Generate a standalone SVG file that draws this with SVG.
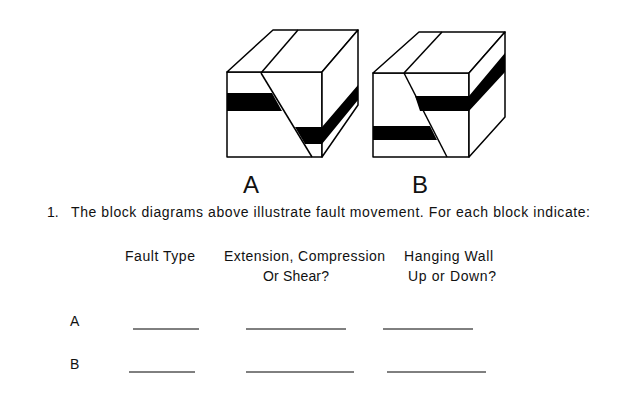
<svg xmlns="http://www.w3.org/2000/svg" width="625" height="403" viewBox="0 0 625 403">
<style>
.f{fill:#fff;stroke:#000;stroke-width:1.5;stroke-linejoin:round}
.l{fill:none;stroke:#000;stroke-width:1.5}
.b{fill:#000}
text{font-family:"Liberation Sans",Arial,sans-serif;font-size:14px;fill:#111}
</style>
<rect width="625" height="403" fill="#fff"/>
<g id="blockA">
<polygon class="f" points="227,72 322,72 322,157 227,157"/>
<polygon class="f" points="227,72 273,30 358,30 322,72"/>
<polygon class="f" points="322,72 358,30 358,105 322,157"/>
<polygon class="b" points="227,93 272,93 282,111 227,111"/>
<polygon class="b" points="295,127 322,127 358,85 358,100 322,144 305,144"/>
<line class="l" x1="298" y1="30" x2="261" y2="73"/>
<line class="l" x1="261" y1="73" x2="312" y2="157"/>
<text x="243" y="193" style="font-size:24px">A</text>
</g>
<g id="blockB">
<polygon class="f" points="373,73 469,73 469,157 373,157"/>
<polygon class="f" points="373,73 419,32 505,32 469,73"/>
<polygon class="f" points="469,73 505,32 505,117 469,157"/>
<polygon class="b" points="373,126 430,126 437,140 373,140"/>
<polygon class="b" points="415,96 469,96 505,53 505,72 469,111 420,111"/>
<line class="l" x1="442" y1="32" x2="404" y2="73"/>
<line class="l" x1="404" y1="73" x2="447" y2="157"/>
<text x="412" y="193" style="font-size:24px">B</text>
</g>
<g id="text">
<text x="47" y="217">1.</text>
<text x="71" y="217" textLength="519" lengthAdjust="spacing">The block diagrams above illustrate fault movement.  For each block indicate:</text>
<text x="125" y="261" textLength="70">Fault Type</text>
<text x="224" y="261" textLength="161">Extension, Compression</text>
<text x="263" y="281" textLength="66">Or Shear?</text>
<text x="404" y="261" textLength="89">Hanging Wall</text>
<text x="408" y="281" textLength="88">Up or Down?</text>
<text x="70" y="326">A</text>
<text x="70" y="369">B</text>
</g>
<g id="blanks" stroke="#000" stroke-width="1">
<line x1="133" y1="329" x2="199" y2="329"/>
<line x1="246" y1="329" x2="346" y2="329"/>
<line x1="383" y1="329" x2="473" y2="329"/>
<line x1="129" y1="372" x2="195" y2="372"/>
<line x1="246" y1="372" x2="354" y2="372"/>
<line x1="387" y1="372" x2="486" y2="372"/>
</g>
</svg>
